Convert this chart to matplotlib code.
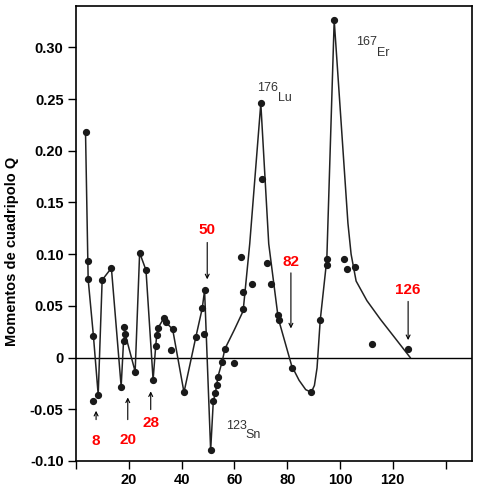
import matplotlib
matplotlib.use("Agg")
import matplotlib.pyplot as plt

plt.rcParams['font.family'] = ['Liberation Sans', 'DejaVu Sans']

# measured points (mass number, quadrupole moment)
pts_x = [3.6, 4.6, 4.6, 6.6, 6.6, 8.4, 9.9, 13.4, 17.1, 18.0, 18.0, 18.6, 22.4,
         24.1, 26.5, 29.2, 30.2, 30.6, 31.0, 33.2, 34.0, 35.9, 36.6, 40.9, 45.4,
         47.8, 48.5, 48.7, 51.0, 52.0, 52.8, 53.3, 53.7, 55.3, 56.4, 59.8, 62.4,
         63.4, 63.4, 66.6, 70.0, 70.4, 72.5, 73.9, 76.4, 76.8, 81.7, 89.1, 92.5,
         95.0, 95.0, 97.8, 101.7, 102.5, 105.5, 112.2, 125.8]
pts_y = [0.218, 0.0937, 0.0756, 0.0207, -0.042, -0.036, 0.075, 0.0866, -0.028,
         0.030, 0.0158, 0.023, -0.0136, 0.1014, 0.0846, -0.0216, 0.0116, 0.0223,
         0.0284, 0.0378, 0.0342, 0.0078, 0.0274, -0.0336, 0.020, 0.0475, 0.023,
         0.065, -0.0898, -0.0423, -0.034, -0.0268, -0.019, -0.0045, 0.0084,
         -0.0055, 0.0972, 0.0465, 0.0633, 0.0714, 0.2458, 0.1725, 0.0917, 0.0707,
         0.0407, 0.0365, -0.0097, -0.0336, 0.0359, 0.095, 0.0898, 0.3262, 0.095,
         0.0856, 0.0879, 0.0129, 0.0084]

# guide curve
curve_x = [3.6, 4.6, 6.6, 8.4, 9.9, 13.4, 17.1, 18.0, 18.6, 22.4, 24.1, 26.5,
           29.2, 30.2, 30.6, 31.0, 33.2, 34.0, 36.6, 40.9, 45.4, 47.8, 48.7,
           51.0, 52.0, 52.8, 53.3, 53.7, 55.3, 56.4, 60.0, 63.3, 65.8, 70.0,
           73.0, 76.6, 81.7, 84.5, 87.0, 89.1, 90.3, 91.3, 92.5, 95.0, 97.8,
           103.0, 104.2, 106.1, 110.2, 115.3, 120.5, 126.6]
curve_y = [0.218, 0.0756, 0.0207, -0.036, 0.075, 0.0866, -0.028, 0.0158, 0.023,
           -0.0136, 0.1014, 0.0846, -0.0216, 0.0116, 0.0223, 0.0284, 0.0378,
           0.0342, 0.0274, -0.0336, 0.020, 0.0475, 0.065, -0.0898, -0.0423,
           -0.034, -0.0268, -0.019, -0.0045, 0.0084, 0.027, 0.045, 0.11, 0.2458,
           0.11, 0.038, -0.008, -0.022, -0.031, -0.0336, -0.027, -0.010, 0.036,
           0.095, 0.3262, 0.13, 0.10, 0.074, 0.055, 0.037, 0.020, 0.0]

# magic numbers: label, x, text y, arrow tail y, arrow tip y
magic = ['8', '20', '28', '50', '82', '126']
magic_x = [7.6, 19.6, 28.3, 49.7, 81.4, 125.8]
magic_text_y = [-0.081, -0.080, -0.063, 0.123, 0.092, 0.065]
magic_tail_y = [-0.0627, -0.0627, -0.053, 0.114, 0.0846, 0.057]
magic_tip_y = [-0.0488, -0.0359, -0.030, 0.073, 0.0255, 0.0142]

xticks = [0, 20, 40, 60, 80, 100, 120, 140]
xtick_labels = ['', '20', '40', '60', '80', '100', '120', '']
yticks = [-0.10, -0.05, 0, 0.05, 0.10, 0.15, 0.20, 0.25, 0.30]
ytick_labels = ['-0.10', '-0.05', '0', '0.05', '0.10', '0.15', '0.20', '0.25', '0.30']

fig = plt.figure(figsize=(4.79, 4.99), dpi=100)
ax = fig.add_axes([0.1587, 0.0762, 0.8267, 0.9118])

ax.axhline(0, color='black', linewidth=1.0, zorder=1)
ax.plot(curve_x, curve_y, color='#222222', linewidth=1.1, zorder=2)
ax.plot(pts_x, pts_y, 'o', color='#1a1a1a', markersize=4.2, zorder=3)

for lab, x, ty, t0, t1 in zip(magic, magic_x, magic_text_y, magic_tail_y, magic_tip_y):
    ax.text(x, ty, lab, color='red', fontsize=11, fontweight='bold',
            ha='center', va='center')
    ax.annotate('', xy=(x, t1), xytext=(x, t0),
                arrowprops=dict(arrowstyle='->', color='black', lw=0.8,
                                mutation_scale=7))

# isotope labels
iso_col = '#333333'
ax.text(72.5, 0.261, '176', fontsize=9, color=iso_col, ha='center', va='center')
ax.text(79.2, 0.2507, 'Lu', fontsize=9, color=iso_col, ha='center', va='center')
ax.text(110.2, 0.3055, '167', fontsize=9, color=iso_col, ha='center', va='center')
ax.text(116.5, 0.295, 'Er', fontsize=9, color=iso_col, ha='center', va='center')
ax.text(60.9, -0.0666, '123', fontsize=9, color=iso_col, ha='center', va='center')
ax.text(67.2, -0.0746, 'Sn', fontsize=9, color=iso_col, ha='center', va='center')

ax.set_xlim(0, 150)
ax.set_ylim(-0.10, 0.34)
ax.set_xticks(xticks)
ax.set_xticklabels(xtick_labels, fontsize=10.5, fontweight='bold')
ax.set_yticks(yticks)
ax.set_yticklabels(ytick_labels, fontsize=10.5, fontweight='bold')
ax.tick_params(axis='both', direction='out', length=6, width=1, pad=3)

ax.set_ylabel('Momentos de cuadripolo Q', fontsize=10.5, fontweight='bold')
ax.yaxis.set_label_coords(-0.145, 0.46)

for s in ax.spines.values():
    s.set_linewidth(1.2)

fig.savefig('out.png', dpi=100)
